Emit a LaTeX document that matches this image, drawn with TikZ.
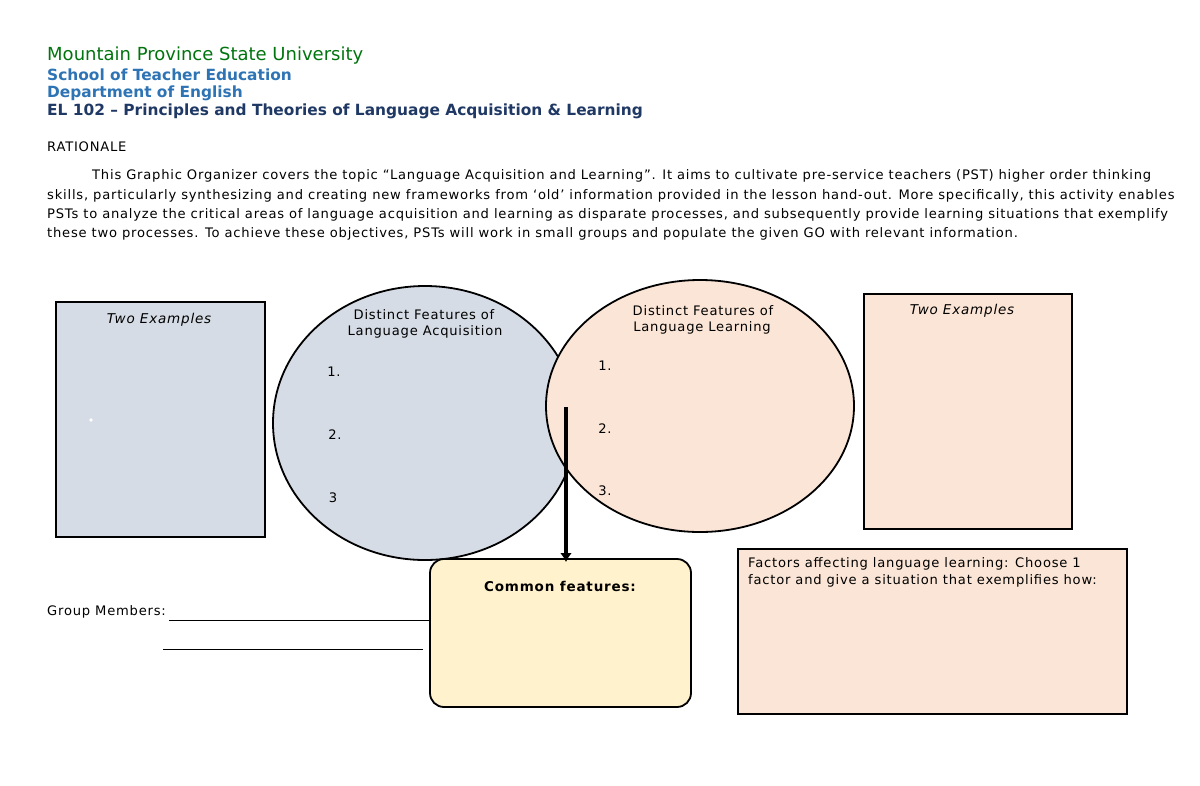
\documentclass[tikz,border=0pt]{standalone}
\usepackage{fontspec}
\setmainfont{DejaVu Sans}
\newfontfamily\spc[LetterSpace=6]{DejaVu Sans}
\usetikzlibrary{arrows.meta}
\begin{document}
\begin{tikzpicture}[x=1pt,y=-1pt,
  box/.style={draw=black,line width=1.8pt},
  txt/.style={font=\spc\fontsize{13.1}{15}\selectfont,inner sep=0pt},
  hd/.style={font=\fontsize{15.4}{17}\selectfont\bfseries,anchor=west,inner sep=0pt}]
\useasboundingbox (0,0) rectangle (1200,785);
\definecolor{blg}{HTML}{D6DCE5}
\definecolor{pch}{HTML}{FBE5D6}
\definecolor{ylw}{HTML}{FFF2CC}
\node[anchor=west,inner sep=0pt,font=\fontsize{18}{20}\selectfont,text=green!45!black!90!teal] (t1) at (47,56) {Mountain Province State University};
\node[hd,text={rgb,255:red,46;green,116;blue,181}] (t2) at (47,75) {School of Teacher Education};
\node[hd,text={rgb,255:red,46;green,116;blue,181}] (t3) at (47,93) {Department of English};
\node[hd,text={rgb,255:red,31;green,56;blue,100}] (t4) at (47,111) {EL 102 – Principles and Theories of Language Acquisition \& Learning};
\node[txt,anchor=west] (r) at (47,147) {RATIONALE};
\node[txt,anchor=west] (p1) at (92,176) {This Graphic Organizer covers the topic “Language Acquisition and Learning”. It aims to cultivate pre-service teachers (PST) higher order thinking};
\node[txt,anchor=west] (p2) at (47,196) {skills, particularly synthesizing and creating new frameworks from ‘old’ information provided in the lesson hand-out. More specifically, this activity enables};
\node[txt,anchor=west] (p3) at (47,215) {PSTs to analyze the critical areas of language acquisition and learning as disparate processes, and subsequently provide learning situations that exemplify};
\node[txt,anchor=west] (p4) at (47,234) {these two processes. To achieve these objectives, PSTs will work in small groups and populate the given GO with relevant information.};
% left rect
\draw[box,fill=blg] (56,302) rectangle (265,537);
\node[txt,font=\spc\fontsize{13.5}{15}\selectfont\itshape] (le) at (159,320) {Two Examples};
\fill[white] (91,420) circle (1.8);
% circles
\draw[box,fill=blg] (425,423) ellipse (152 and 137);
\draw[box,fill=pch] (700,406) ellipse (154 and 126);
\node[txt] (la1) at (424,315) {Distinct Features of};
\node[txt] (la2) at (425,332) {Language Acquisition};
\node[txt] (a1) at (334,372) {1.};
\node[txt] (a2) at (335,435) {2.};
\node[txt] (a3) at (333,498) {3};
\node[txt] (ll1) at (703,311) {Distinct Features of};
\node[txt] (ll2) at (702,328) {Language Learning};
\node[txt] (b1) at (605,366) {1.};
\node[txt] (b2) at (605,429) {2.};
\node[txt] (b3) at (605,491) {3.};
% right rect
\draw[box,fill=pch] (864,294) rectangle (1072,529);
\node[txt,font=\spc\fontsize{13.5}{15}\selectfont\itshape] (re) at (962,311) {Two Examples};
% common
\draw[box,fill=ylw,rounded corners=14pt] (430,559) rectangle (691,707);
\node[txt,font=\spc\fontsize{13.5}{15}\selectfont\bfseries] (cf) at (560,586) {Common features:};
\coordinate (as) at (566,407);
\draw[line width=4pt,-{Latex[length=9pt,width=12pt]}] (as) -- (566,562);
% factors
\draw[box,fill=pch] (738,549) rectangle (1127,714);
\node[txt,anchor=west] (f1) at (748,564) {Factors affecting language learning: Choose 1};
\node[txt,anchor=west] (f2) at (748,581) {factor and give a situation that exemplifies how:};
% group
\node[txt,anchor=west] (g) at (47,612) {Group Members:};
\coordinate (l1a) at (169,620); \coordinate (l1b) at (430,620);
\coordinate (l2a) at (163,649); \coordinate (l2b) at (423,649);
\draw[line width=0.8pt] (l1a) -- (l1b);
\draw[line width=0.8pt] (l2a) -- (l2b);
\end{tikzpicture}
\end{document}
